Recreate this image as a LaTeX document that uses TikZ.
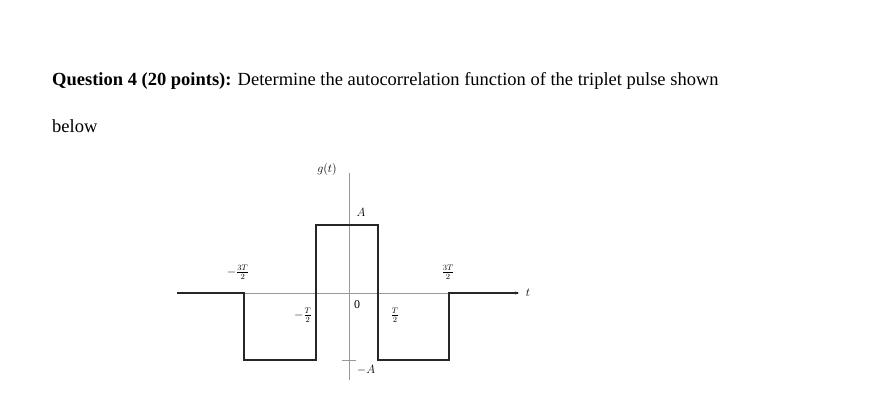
\documentclass[tikz,border=0pt]{standalone}
\usepackage{fontspec}
\setmainfont{Liberation Serif}
\usetikzlibrary{arrows.meta}
\begin{document}
\begin{tikzpicture}[x=1pt,y=-1pt,
  axis/.style={gray!80, line width=0.8pt},
  pulse/.style={black!85, line width=2.2pt},
  lbl/.style={font=\fontsize{12}{12}\selectfont, inner sep=1pt}]
\useasboundingbox (0,0) rectangle (883,403);
\node[anchor=base west, inner sep=0, font=\fontsize{18.5}{20}\selectfont] (q) at (52,86) {\textbf{Question 4 (20 points):} Determine the autocorrelation function of the triplet pulse shown};
\node[anchor=base west, inner sep=0, font=\fontsize{18.5}{20}\selectfont] (b) at (52,133) {below};
\coordinate (xl) at (177,293); \coordinate (xr) at (520,293);
\coordinate (yt) at (349,173); \coordinate (yb) at (349,380);
\draw[axis,-{Latex[length=5pt]}] (xl) -- (xr);
\draw[axis] (yt) -- (yb);
\draw[axis] (342,360) -- (356,360);
\draw[pulse] (177,293) -- (244,293) -- (244,360) -- (316,360) -- (316,225) -- (378,225) -- (378,360) -- (449,360) -- (449,293) -- (518,293);
\node[lbl] (gt) at (327,170) {$g(t)$};
\node[lbl] (a) at (361,212) {$A$};
\node[lbl] (ma) at (366,370) {$-A$};
\node[lbl] (t) at (528,293) {$t$};
\node[lbl] (z) at (357,305) {0};
\node[lbl] (m3) at (238,272) {$-\frac{3T}{2}$};
\node[lbl] (p3) at (448,272) {$\frac{3T}{2}$};
\node[lbl] (m1) at (303,315) {$-\frac{T}{2}$};
\node[lbl] (p1) at (395,315) {$\frac{T}{2}$};
\end{tikzpicture}
\end{document}
